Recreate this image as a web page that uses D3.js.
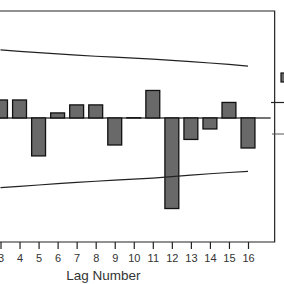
<!DOCTYPE html>
<html>
<head>
<meta charset="utf-8">
<script src="https://cdn.jsdelivr.net/npm/d3@7"></script>
<style>
    html, body { margin: 0; padding: 0; background: #fff; }
    svg { display: block; font-family: "Liberation Sans", Arial, sans-serif; }
</style>
</head>
<body>
<div id="chart"></div>
<script>
// lags shown in the (cropped) picture
const lags = [3, 4, 5, 6, 7, 8, 9, 10, 11, 12, 13, 14, 15, 16];
// ACF coefficients
const coefficients = [0.168, 0.168, -0.355, 0.047, 0.122, 0.122, -0.253, 0.002, 0.257, -0.847, -0.201, -0.103, 0.145, -0.281];
// confidence limits
const upperLimit = [0.636, 0.622, 0.610, 0.599, 0.587, 0.577, 0.568, 0.559, 0.550, 0.538, 0.526, 0.514, 0.500, 0.484];
const lowerLimit = [-0.652, -0.640, -0.627, -0.615, -0.603, -0.592, -0.581, -0.573, -0.562, -0.548, -0.535, -0.522, -0.510, -0.499];
const tickLags = [3, 4, 5, 6, 7, 8, 9, 10, 11, 12, 13, 14, 15, 16];

const drawChart = (container) => {
    const dimensions = {width: 284, height: 284};

    const svg = d3.select(container)
        .append('svg')
        .attr('width', dimensions.width)
        .attr('height', dimensions.height);

    // x: lag number, the left part of the chart is cut off
    const xLo = -0.6, xHi = 17.4;
    const x = d3.scaleLinear().domain([3, 16]).range([0.5, 248]);
    const y = d3.scaleLinear().domain([-1.16, 1.0]).range([242, 11]);
    const barWidth = x(0.73) - x(0);

    const rows = lags.map((lag, i) => ({lag, value: coefficients[i], up: upperLimit[i], low: lowerLimit[i]}));

    // frame (top, right, bottom)
    svg.append('path')
        .attr('d', `M${x(xLo)},${y(1.0)}H${x(xHi)}V${y(-1.16)}H${x(xLo)}`)
        .attr('fill', 'none')
        .attr('stroke', '#222')
        .attr('stroke-width', 1.2);

    // zero line
    svg.append('line')
        .attr('x1', x(xLo)).attr('x2', x(xHi) - 4)
        .attr('y1', y(0)).attr('y2', y(0))
        .attr('stroke', '#444')
        .attr('stroke-width', 1.6);

    // bars
    svg.append('g')
        .selectAll('rect')
        .data(rows)
        .join('rect')
        .attr('x', d => x(d.lag) - barWidth / 2)
        .attr('y', d => y(Math.max(0, d.value)))
        .attr('width', barWidth)
        .attr('height', d => Math.abs(y(d.value) - y(0)))
        .attr('fill', '#696969')
        .attr('stroke', '#111')
        .attr('stroke-width', 1.3);

    // confidence limits
    const limitLine = acc => d3.line().x(d => x(d.lag)).y(d => y(acc(d)));
    svg.append('path')
        .attr('d', limitLine(d => d.up)(rows))
        .attr('fill', 'none').attr('stroke', '#222').attr('stroke-width', 1.2);
    svg.append('path')
        .attr('d', limitLine(d => d.low)(rows))
        .attr('fill', 'none').attr('stroke', '#222').attr('stroke-width', 1.2);

    // x axis
    const xAxis = d3.axisBottom(x)
        .tickValues(tickLags)
        .tickSize(7)
        .tickPadding(5)
        .tickFormat(d3.format('d'));
    const axisG = svg.append('g')
        .attr('transform', `translate(0,${y(-1.16)})`)
        .call(xAxis);
    axisG.select('.domain').remove();
    axisG.selectAll('line').attr('stroke', '#222').attr('stroke-width', 1.2);
    axisG.selectAll('text').attr('fill', '#333').style('font-size', '11px');

    svg.append('text')
        .attr('x', (x(xLo) + x(xHi)) / 2)
        .attr('y', 280)
        .attr('text-anchor', 'middle')
        .attr('fill', '#333')
        .style('font-size', '13.5px')
        .text('Lag Number');

    // legend symbols (labels fall outside the picture)
    const legend = svg.append('g');
    legend.append('rect')
        .attr('x', 281).attr('y', 73)
        .attr('width', 10).attr('height', 9)
        .attr('fill', '#696969').attr('stroke', '#111').attr('stroke-width', 1.2);
    legend.append('line')
        .attr('x1', 271).attr('x2', 290).attr('y1', 102.5).attr('y2', 102.5)
        .attr('stroke', '#222').attr('stroke-width', 1.2);
    legend.append('line')
        .attr('x1', 272).attr('x2', 290).attr('y1', 134).attr('y2', 134)
        .attr('stroke', '#555').attr('stroke-width', 1);
};

drawChart(document.getElementById('chart'));
</script>
</body>
</html>
